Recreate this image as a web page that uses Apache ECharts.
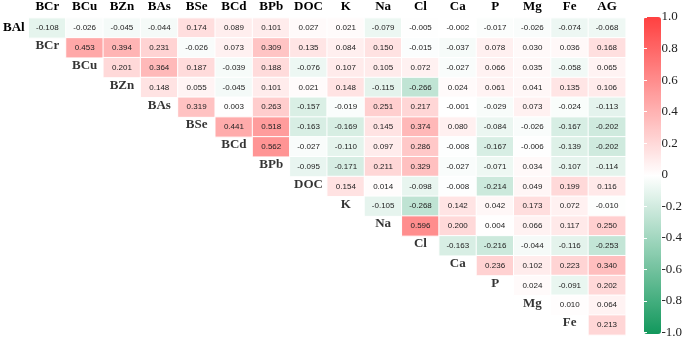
<!DOCTYPE html>
<html><head><meta charset="utf-8">
<script src="https://cdn.jsdelivr.net/npm/echarts@6/dist/echarts.min.js"></script>
<style>html,body{margin:0;padding:0;background:#fff}#c{width:685px;height:339px}</style>
</head><body><div id="c"></div>
<script>
var cols = ['BCr','BCu','BZn','BAs','BSe','BCd','BPb','DOC','K','Na','Cl','Ca','P','Mg','Fe','AG'];
var rows = ['BAl','BCr','BCu','BZn','BAs','BSe','BCd','BPb','DOC','K','Na','Cl','Ca','P','Mg','Fe'];
var rBAl = [-0.108,-0.026,-0.045,-0.044,0.174,0.089,0.101,0.027,0.021,-0.079,-0.005,-0.002,-0.017,-0.026,-0.074,-0.068];
var rBCr = [0.453,0.394,0.231,-0.026,0.073,0.309,0.135,0.084,0.150,-0.015,-0.037,0.078,0.030,0.036,0.168];
var rBCu = [0.201,0.364,0.187,-0.039,0.188,-0.076,0.107,0.105,0.072,-0.027,0.066,0.035,-0.058,0.065];
var rBZn = [0.148,0.055,-0.045,0.101,0.021,0.148,-0.115,-0.266,0.024,0.061,0.041,0.135,0.106];
var rBAs = [0.319,0.003,0.263,-0.157,-0.019,0.251,0.217,-0.001,-0.029,0.073,-0.024,-0.113];
var rBSe = [0.441,0.518,-0.163,-0.169,0.145,0.374,0.080,-0.084,-0.026,-0.167,-0.202];
var rBCd = [0.562,-0.027,-0.110,0.097,0.286,-0.008,-0.167,-0.006,-0.139,-0.202];
var rBPb = [-0.095,-0.171,0.211,0.329,-0.027,-0.071,0.034,-0.107,-0.114];
var rDOC = [0.154,0.014,-0.098,-0.008,-0.214,0.049,0.199,0.116];
var rK   = [-0.105,-0.268,0.142,0.042,0.173,0.072,-0.010];
var rNa  = [0.596,0.200,0.004,0.066,0.117,0.250];
var rCl  = [-0.163,-0.216,-0.044,-0.116,-0.253];
var rCa  = [0.236,0.102,0.223,0.340];
var rP   = [0.024,-0.091,0.202];
var rMg  = [0.010,0.064];
var rFe  = [0.213];
var colorbarMin = -1, colorbarMax = 1, colorbarStep = 0.2;

var matrix = [rBAl,rBCr,rBCu,rBZn,rBAs,rBSe,rBCd,rBPb,rDOC,rK,rNa,rCl,rCa,rP,rMg,rFe];
var heat = [];
matrix.forEach(function(r,i){
  r.forEach(function(v,k){ heat.push([i+k, i, v]); });
});
var labelPts = [];
rows.forEach(function(name,i){ if(i>0) labelPts.push({value:[i-1,i], name:name}); });

var chart = echarts.init(document.getElementById('c'));
chart.setOption({
  animation:false,
  grid:[
    {left:26.2, top:18.1, width:599.5, height:316.8},
    {left:644, top:17, width:17, height:317}
  ],
  xAxis:[
    {type:'category', gridIndex:0, data:cols, position:'top',
     axisLine:{show:false}, axisTick:{show:false}, splitLine:{show:false},
     axisLabel:{interval:0, margin:5, fontFamily:'Liberation Serif', fontWeight:'bold', fontSize:13, color:'#000'}},
    {type:'value', gridIndex:1, show:false}
  ],
  yAxis:[
    {type:'category', gridIndex:0, data:rows, inverse:true,
     axisLine:{show:false}, axisTick:{show:false}, splitLine:{show:false},
     axisLabel:{interval:0, margin:4, fontFamily:'Liberation Serif', fontWeight:'bold', fontSize:13, color:'#000',
       padding:[0,0,5,0],
       formatter:function(v,idx){ return idx===0 ? v : ''; }}},
    {type:'value', gridIndex:1, min:colorbarMin, max:colorbarMax, interval:colorbarStep, position:'right', z:10,
     axisLine:{show:false}, splitLine:{show:false},
     axisTick:{show:true, inside:true, length:3, lineStyle:{color:'#ffffff', width:1}},
     axisLabel:{margin:6, fontFamily:'Liberation Serif', fontSize:13, color:'#222',
       formatter:function(v){ return Math.abs(v)<1e-9 ? '0' : v.toFixed(1); }}},
    {type:'value', gridIndex:1, min:colorbarMin, max:colorbarMax, interval:colorbarStep, position:'left', z:10,
     axisLine:{show:false}, splitLine:{show:false}, axisLabel:{show:false},
     axisTick:{show:true, inside:true, length:3, lineStyle:{color:'#ffffff', width:1}}}
  ],
  visualMap:{
    type:'continuous', min:colorbarMin, max:colorbarMax, seriesIndex:0, calculable:false, realtime:false,
    orient:'vertical', left:644, top:17, padding:0, itemWidth:17, itemHeight:317, text:null, showLabel:false,
    inRange:{color:['#12985C','#ffffff','#FF4040']}
  },
  series:[
    {type:'heatmap', xAxisIndex:0, yAxisIndex:0, data:heat,
     itemStyle:{borderColor:'#ffffff', borderWidth:1},
     label:{show:true, fontFamily:'Liberation Sans', fontSize:8, color:'#222',
       formatter:function(p){ return p.value[2].toFixed(3); }},
     emphasis:{disabled:true}},
    {type:'scatter', xAxisIndex:0, yAxisIndex:0, data:labelPts, symbolSize:0, silent:true,
     label:{show:true, position:'inside', offset:[0,-2], fontFamily:'Liberation Serif', fontWeight:'bold', fontSize:13, color:'#000',
       formatter:function(p){ return p.name; }}}
  ]
});
</script></body></html>
